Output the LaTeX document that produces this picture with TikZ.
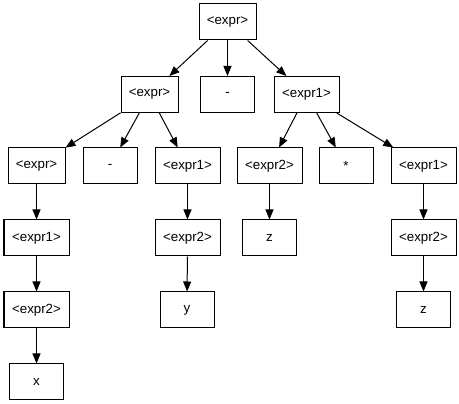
\documentclass[tikz,border=0pt]{standalone}
\usepackage{fontspec}
\setmainfont{Liberation Sans}
\usetikzlibrary{arrows.meta}
\begin{document}
\begin{tikzpicture}[x=1pt,y=-1pt,
  box/.style={draw=black,line width=1pt,minimum height=36pt,inner sep=0pt,
    font=\fontsize{13.3}{16}\selectfont},
  wa/.style={box,minimum width=57pt},
  wb/.style={box,minimum width=65pt},
  wc/.style={box,minimum width=54pt},
  edge/.style={line width=1pt,-{Triangle[length=10pt,width=8pt]}}]
\useasboundingbox (0,0) rectangle (459,404);
\node[wa] (r) at (227.5,22) {<expr>};
\node[wa] (a) at (149.5,94.5) {<expr>};
\node[wc] (m1) at (227.5,94.5) {-};
\node[wb] (b) at (306.5,94.5) {<expr1>};
\node[wa] (a1) at (36.5,166) {<expr>};
\node[wc] (m2) at (110,166) {-};
\node[wb] (a3) at (187.5,166) {<expr1>};
\node[wb] (b1) at (269.5,166) {<expr2>};
\node[wc] (st) at (346,166) {*};
\node[wb] (b3) at (423.5,166) {<expr1>};
\node[wb] (c1) at (36.5,238) {<expr1>};
\node[wb] (c3) at (187.5,238) {<expr2>};
\node[wc] (z1) at (269.5,238) {z};
\node[wb] (c4) at (423.5,238) {<expr2>};
\node[wb] (d1) at (36.5,310) {<expr2>};
\node[wc] (y) at (187,310) {y};
\node[wc] (z2) at (423.5,310) {z};
\node[wc] (x) at (36.5,382) {x};
\draw[edge] (r) -- (a);
\draw[edge] (r) -- (m1);
\draw[edge] (r) -- (b);
\draw[edge] (a) -- (a1);
\draw[edge] (a) -- (m2);
\draw[edge] (a) -- (a3);
\draw[edge] (b) -- (b1);
\draw[edge] (b) -- (st);
\draw[edge] (b) -- (b3);
\draw[edge] (a1) -- (c1);
\draw[edge] (c1) -- (d1);
\draw[edge] (d1) -- (x);
\draw[edge] (a3) -- (c3);
\draw[edge] (c3) -- (y);
\draw[edge] (b1) -- (z1);
\draw[edge] (b3) -- (c4);
\draw[edge] (c4) -- (z2);
\end{tikzpicture}
\end{document}
